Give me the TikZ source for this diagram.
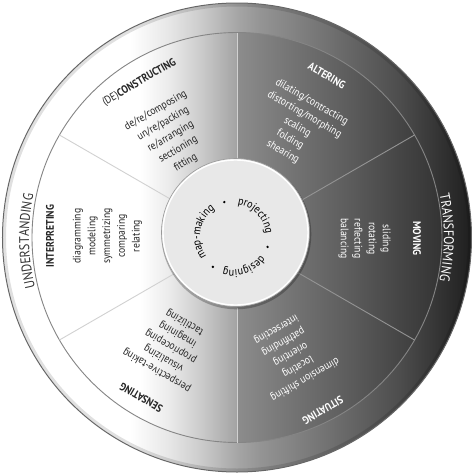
\documentclass[tikz,border=0pt]{standalone}
\usepackage{fontspec}
\setmainfont{PT Sans}
\newfontfamily\wheelfont[FakeStretch=0.88]{PT Sans}
\newfontfamily\ringfont[FakeStretch=0.87]{PT Sans}
\usetikzlibrary{decorations.text}
\newcommand\itemfmt{\wheelfont\fontsize{11}{13}\selectfont}
\newcommand\titlefmt{\wheelfont\bfseries\fontsize{11}{13}\selectfont}
\newcommand\ringfmt{\ringfont\fontsize{14}{16}\selectfont}
\newcommand\cenfmt{\wheelfont\fontsize{11.5}{13}\selectfont}
\pgfdeclarehorizontalshading{ringshade}{100bp}{color(0bp)=(white); color(38.6bp)=(white); color(42.9bp)=(black!10); color(46.1bp)=(black!20); color(50bp)=(black!35); color(52.5bp)=(black!42); color(56.7bp)=(black!50); color(62bp)=(black!60); color(67.4bp)=(black!70); color(71.6bp)=(black!80); color(75bp)=(black!88); color(100bp)=(black!88)}
\pgfdeclarehorizontalshading{sectshade}{100bp}{color(0bp)=(white); color(38.2bp)=(white); color(41.8bp)=(black!8); color(45.5bp)=(black!20); color(49.9bp)=(black!36); color(50.1bp)=(black!45); color(52.8bp)=(black!49); color(57.7bp)=(black!56); color(63.8bp)=(black!64); color(69.9bp)=(black!73); color(75bp)=(black!80); color(100bp)=(black!80)}
\tikzset{
  itembox/.style={font=\itemfmt, inner sep=0pt, anchor=center},
  titlebox/.style={font=\titlefmt, inner sep=0pt, anchor=center},
  lightdiv/.style={black!18, line width=0.9pt},
  darkdiv/.style={black!42, line width=0.9pt}
}
% #1 name, #2 angle, #3 offset, #4 title radius, #5 first radius, #6 spacing, #7 title, #8 items, #9 colour
\newcommand\wheelsector[9]{%
  \begin{scope}[rotate=#2-90, transform shape]
    \node[titlebox, text=#9] (#1-t) at (#3,#4) {#7};
    \foreach \wtxt [count=\k] in {#8} {
      \node[itembox, text=#9] (#1-\k) at (#3,{#5-(\k-1)*#6}) {\wtxt};
    }
  \end{scope}}
\begin{document}
\begin{tikzpicture}[x=1pt,y=1pt]
\useasboundingbox (-237,-237.5) rectangle (237,237.5);
\fill[white] (-237,-237.5) rectangle (237,237.5);
% outer ring
\shade[shading=ringshade] (0,0) circle[radius=234.5pt];
\draw[black,opacity=.12,line width=3pt] (0,0) circle[radius=232.5pt];
\draw[black!60,line width=1pt] (0,0) circle[radius=234.5pt];
% sectors
\shade[shading=sectshade] (0,0) circle[radius=205pt];
\draw[black!48,line width=.9pt] (0,0) circle[radius=205pt];
\foreach \a in {90,150,210,270} \draw[lightdiv] (\a:70) -- (\a:205);
\foreach \a in {30,330} \draw[darkdiv] (\a:70) -- (\a:205);
% centre disk
\coordinate (dc) at (-1.5,5);
\fill[black,opacity=.25] ([shift={(0.8,-1.8)}]dc) circle[radius=75pt];
\fill[black!9] (dc) circle[radius=74pt];
\draw[white,line width=1.4pt] (dc) circle[radius=72.5pt];
\draw[black!40,line width=.6pt] (dc) circle[radius=74pt];
% centre words
\coordinate (cc) at (-4,0.5);
\path[decorate,decoration={text along path,text={|\cenfmt|projecting},text align=center}]
  ([shift={(99:33)}]cc) arc[start angle=99,end angle=-11,radius=33pt];
\path[decorate,decoration={text along path,text={|\cenfmt|designing},text align=center}]
  ([shift={(-21:33)}]cc) arc[start angle=-21,end angle=-119,radius=33pt];
\path[decorate,decoration={text along path,text={|\cenfmt|map-making},text align=center}]
  ([shift={(-129:33)}]cc) arc[start angle=-129,end angle=-251,radius=33pt];
\foreach \a in {104,-16,-124} \fill[black] ([shift={(\a:36)}]cc) circle[radius=1.3pt];
% sector texts
\wheelsector{con}{120}{-7}{183}{150.5}{15}{{\mdseries(DE)}CONSTRUCTING}{{de/re/composing},{un/re/packing},{re/arranging},sectioning,fitting}{black!85}
\wheelsector{alt}{60}{-3}{185}{154.5}{14.4}{ALTERING}{{dilating/contracting},{distorting/morphing},scaling,folding,shearing}{white}
\wheelsector{mov}{0}{1}{180}{148.5}{14}{MOVING}{sliding,rotating,reflecting,balancing}{white}
\wheelsector{sit}{-60}{12}{192.5}{156.5}{14.4}{SITUATING}{dimension shifting,locating,orienting,pathfinding,intersecting}{white}
\wheelsector{sen}{-120}{3}{186.5}{155}{13.9}{SENSATING}{perspective-taking,visualizing,proprioceping,imagining,tactilizing}{black!85}
\wheelsector{int}{180}{1.5}{187}{159}{14.75}{INTERPRETING}{diagramming,modeling,symmetrizing,comparing,relating}{black!85}
% ring labels
\path[decorate,decoration={text along path,text={|\ringfmt|UNDERSTANDING},text align=center,text color=black!80}]
  (222:208) arc[start angle=222,end angle=140,radius=208pt];
\path[decorate,decoration={text along path,text={|\ringfmt|TRANSFORMING},text align=center,text color=white}]
  (41:207) arc[start angle=41,end angle=-41,radius=207pt];
\end{tikzpicture}
\end{document}
